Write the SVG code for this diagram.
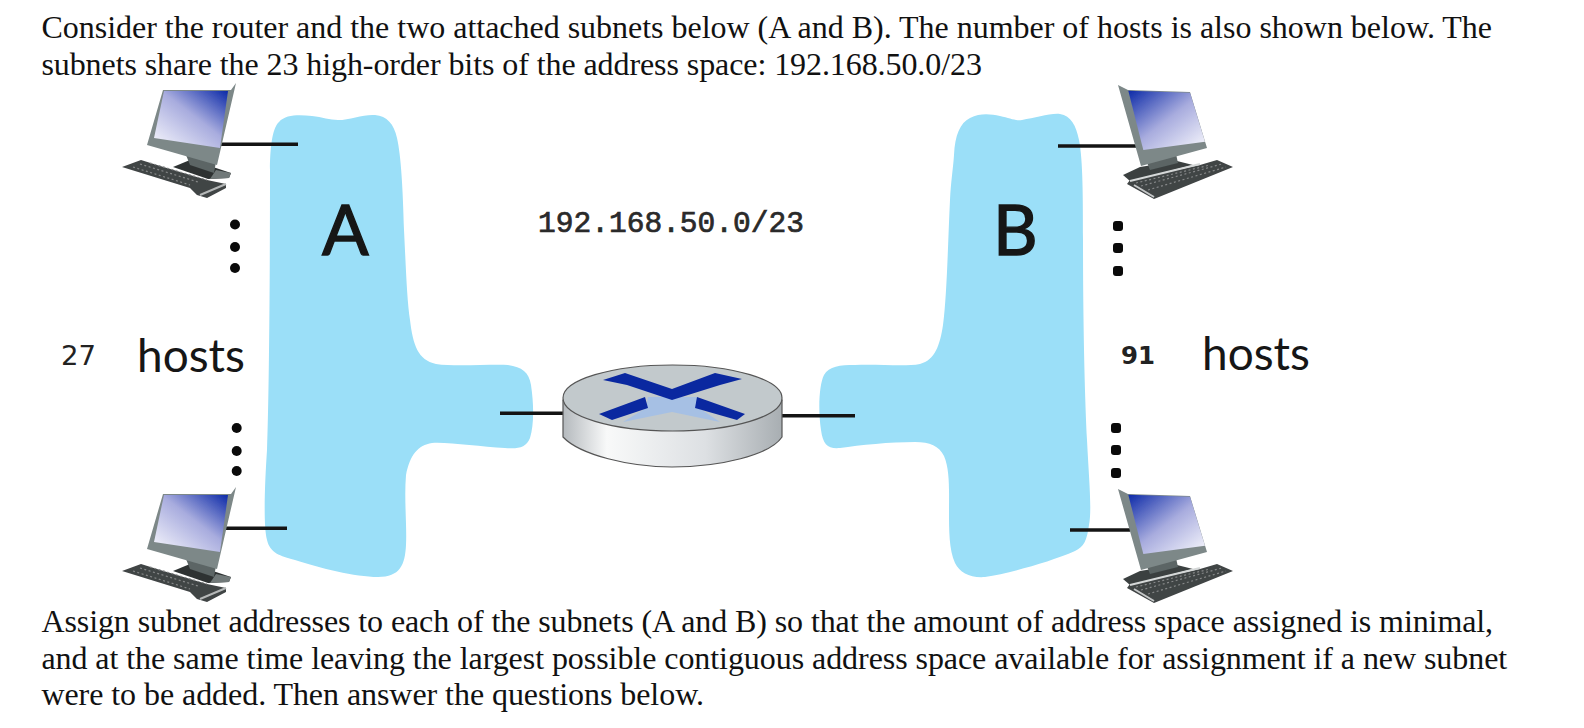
<svg xmlns="http://www.w3.org/2000/svg" width="1584" height="728" viewBox="0 0 1584 728">
<style>
.t{font-family:"Liberation Serif","Times New Roman",serif;font-size:32px;fill:#111}
.c{font-family:Lato,"Open Sans",sans-serif;fill:#161616}
.big{stroke:#161616;stroke-width:1.4}
.n{font-family:"DejaVu Sans",sans-serif;fill:#222}
.m{font-family:"Liberation Mono",monospace;fill:#2a2a2a;stroke:#2a2a2a;stroke-width:.7}
.w{stroke:#141414;stroke-width:3.5;fill:none}
.d{fill:#0a0a0a}
.blob{fill:#9bdff8}
</style>
<defs>
<filter id="soft" x="-5%" y="-5%" width="110%" height="110%"><feGaussianBlur stdDeviation="0.6"/></filter>
<linearGradient id="scrL" x1="1" y1="0" x2="0" y2="1"><stop offset="0" stop-color="#0c2aa8"/><stop offset=".45" stop-color="#a8acde"/><stop offset="1" stop-color="#f8f8fd"/></linearGradient>
<linearGradient id="scrR" x1="0" y1="0" x2="1" y2="1"><stop offset="0" stop-color="#0c2aa8"/><stop offset=".5" stop-color="#a8acde"/><stop offset="1" stop-color="#f8f8fd"/></linearGradient>
<linearGradient id="side" x1="0" y1="0" x2="1" y2="0"><stop offset="0" stop-color="#b4b9bd"/><stop offset=".2" stop-color="#f8f9f9"/><stop offset=".65" stop-color="#dde0e3"/><stop offset="1" stop-color="#a8aeb2"/></linearGradient>
<g id="host-l" filter="url(#soft)">
<path d="M173 167L190 160L216 168L231 173L229 178L208 179Z" fill="#2e3333"/>
<path d="M216 170L231 173L229 178L210 179Z" fill="#717979"/>
<path d="M186 155L216 162L214 173L190 165Z" fill="#5c6565"/>
<path d="M236 83L231 90L163 90L147 145L217 165Z" fill="#7d8888"/>
<path d="M164 91L228 91L220 148L154 138Z" fill="url(#scrL)"/>
<path d="M122 167L141 160L157 165L207 180L226 184L226 188L207 198L197 195L190 188Z" fill="#404445"/>
<path d="M133 167L190 185M140 164L198 182M150 163L207 180" stroke="#858888" stroke-width="1.2" stroke-dasharray="2 2.5" fill="none"/>
<path d="M200 195L226 184" stroke="#b5b8b8" stroke-width="2" fill="none"/>
</g>
<g id="host-r" filter="url(#soft)">
<path d="M1123 175L1140 167L1177 161L1193 165L1130 181Z" fill="#3a4040"/>
<path d="M1146 160L1176 154L1178 163L1150 170Z" fill="#5c6565"/>
<path d="M1118 85L1128 90L1190 92L1207 148L1141 166Z" fill="#7d8888"/>
<path d="M1128.300 90.700L1190 92.700L1205 141.700L1143.300 150Z" fill="url(#scrR)"/>
<path d="M1200 165L1217 160L1233 167L1154 199L1127 184L1130 180Z" fill="#404445"/>
<path d="M1141 186L1222 164M1148 190L1226 167M1136 183L1210 165" stroke="#858888" stroke-width="1.2" stroke-dasharray="2 2.500" fill="none"/>
<path d="M1130 181L1200 164" stroke="#d5d8d8" stroke-width="2" fill="none"/>
<path d="M1134 185L1154 197" stroke="#c5c8c8" stroke-width="2" fill="none"/>
</g>
</defs>
<rect width="1584" height="728" fill="#fff"/>
<g id="subnet-A">
<path class="blob" d="M270 170C270 150 272 128 279 122C286 114 300 115 312 116C322 117 330 120 338 120C350 120 364 114 375 115C387 116 394 124 397 138C401 155 403 190 404 230C406 270 407 300 410 320C413 345 418 360 436 364C455 367 490 364 508 365C522 367 529 372 531 385C534 405 534 425 530 438C526 448 518 449 505 448C480 447 450 442 432 443C418 445 410 455 406 475C404 500 407 525 406 545C405 565 400 577 378 577C355 577 320 568 295 560C280 556 270 553 267 540C263 525 265 480 267 450C269 400 270 280 270 170Z"/>
<text class="c big" x="322" y="255" font-size="69">A</text>
</g>
<g id="subnet-B">
<path class="blob" d="M954 155C955 135 960 123 970 118C980 113 990 114 1000 116C1010 118 1015 121 1022 120C1035 118 1050 113 1060 114C1071 116 1076 125 1079 140C1083 160 1083 200 1083 240C1083 330 1085 400 1087 440C1089 480 1092 510 1089 525C1087 540 1084 547 1075 551C1050 562 1010 573 985 577C970 578 960 573 955 563C949 550 949 530 949 510C949 490 950 470 944 456C939 446 930 442 915 442C890 442 860 445 840 448C828 449 823 445 821 430C818 410 819 385 824 375C829 366 840 365 855 365C880 364 905 367 920 364C935 360 940 345 943 325C947 295 948 240 950 200C951 180 953 170 954 155Z"/>
<text class="c big" x="993" y="255" font-size="69">B</text>
</g>
<g id="connectors">
<line class="w" x1="220" y1="144.300" x2="298" y2="144.300"/>
<line class="w" x1="226" y1="528.300" x2="287" y2="528.300"/>
<line class="w" x1="500" y1="413.300" x2="566" y2="413.300"/>
<line class="w" x1="780" y1="415.700" x2="855" y2="415.700"/>
<line class="w" x1="1058" y1="146" x2="1136" y2="146"/>
<line class="w" x1="1070" y1="530" x2="1130" y2="530"/>
</g>
<g id="router">
<path d="M563 400V437C580 455 630 467 672 467C720 467 770 455 782 437V400Z" fill="url(#side)" stroke="#555" stroke-width="1.2"/>
<ellipse cx="672.500" cy="398" rx="109.500" ry="33" fill="#c2c9cc" stroke="#555" stroke-width="1.2"/>
<path d="M648 397L697 397L699 408L720 422L672 412L623 422L646 408Z" fill="#a6c0e4"/>
<path d="M603 380L625 373L672 389L715 373L742 379L720 385L672 400L627 385Z" fill="#0a28a0"/>
<path d="M599 414L645 397L648 408L612 420Z" fill="#0a28a0"/>
<path d="M697 397L745 414L737 420L695 408Z" fill="#0a28a0"/>
</g>
<g id="host-a1"><use href="#host-l"/></g>
<g id="host-a2"><use href="#host-l" transform="translate(0 404)"/></g>
<g id="host-b1"><use href="#host-r"/></g>
<g id="host-b2"><use href="#host-r" transform="translate(0 404)"/></g>
<g id="dots">
<circle class="d" cx="235" cy="224.500" r="5"/><circle class="d" cx="235" cy="247" r="5"/><circle class="d" cx="235" cy="268" r="5"/>
<circle class="d" cx="236.700" cy="428" r="5"/><circle class="d" cx="236.700" cy="451" r="5"/><circle class="d" cx="236.700" cy="471" r="5"/>
<rect class="d" x="1113" y="221" width="10" height="10" rx="3"/><rect class="d" x="1113" y="243" width="10" height="10" rx="3"/><rect class="d" x="1113" y="266" width="10" height="10" rx="3"/>
<rect class="d" x="1111" y="423" width="10" height="10" rx="3"/><rect class="d" x="1111" y="445" width="10" height="10" rx="3"/><rect class="d" x="1111" y="468" width="10" height="10" rx="3"/>
</g>
<g id="labels">
<text class="c" x="137" y="372" font-size="47" textLength="108" lengthAdjust="spacingAndGlyphs">hosts</text>
<text class="c" x="1202" y="370" font-size="47" textLength="108" lengthAdjust="spacingAndGlyphs">hosts</text>
<text class="n" x="61" y="365" font-size="27" textLength="35" lengthAdjust="spacingAndGlyphs">27</text>
<text class="n" x="1121" y="364" font-size="25" font-weight="bold" textLength="34" lengthAdjust="spacingAndGlyphs">91</text>
<text class="m" x="538" y="232" font-size="29" textLength="266" lengthAdjust="spacingAndGlyphs">192.168.50.0/23</text>
</g>
<g id="question">
<text class="t" x="41.400" y="38" textLength="1450.600">Consider the router and the two attached subnets below (A and B). The number of hosts is also shown below. The</text>
<text class="t" x="41.400" y="75" textLength="940.500">subnets share the 23 high-order bits of the address space: 192.168.50.0/23</text>
<text class="t" x="41.400" y="632" textLength="1451.700">Assign subnet addresses to each of the subnets (A and B) so that the amount of address space assigned is minimal,</text>
<text class="t" x="41.400" y="669" textLength="1465.800">and at the same time leaving the largest possible contiguous address space available for assignment if a new subnet</text>
<text class="t" x="41.400" y="705" textLength="662.700">were to be added. Then answer the questions below.</text>
</g>
</svg>
